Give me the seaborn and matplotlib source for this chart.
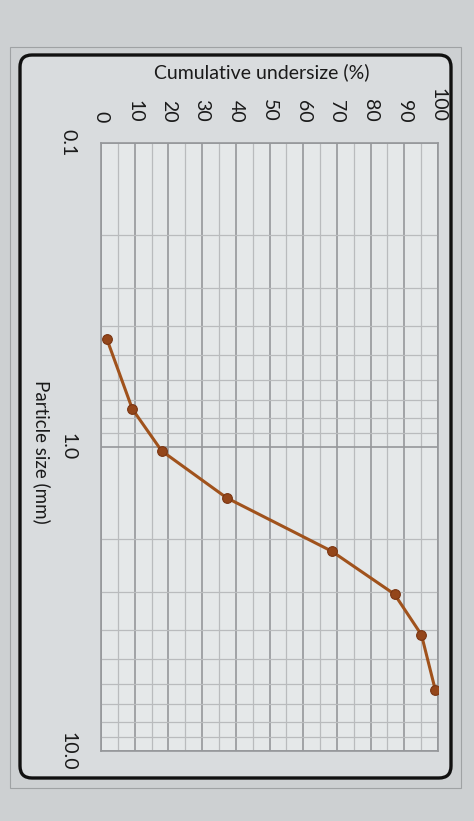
import numpy as np
import pandas as pd
import seaborn as sns
import matplotlib.pyplot as plt
from matplotlib.patches import FancyBboxPatch, Rectangle
from matplotlib.transforms import IdentityTransform
from matplotlib.ticker import LogLocator, MultipleLocator, NullFormatter

particle_size_mm = [0.44, 0.75, 1.03, 1.47, 2.2, 3.05, 4.15, 6.3]
cumulative_undersize = [1.7, 9.3, 18.0, 37.3, 68.4, 87.1, 95.1, 99.2]
pct_ticks = list(range(0, 101, 10))
size_ticks = [0.1, 1.0, 10.0]
size_labels = ['0.1', '1.0', '10.0']

sns.set_theme(style='white')
plt.rcParams['font.family'] = ['Lato', 'DejaVu Sans']

W, H = 474, 821
fig = plt.figure(figsize=(W / 100, H / 100), dpi=100, facecolor='#cdd0d2')

# thin outer rectangle and rounded black frame (pixel coords), behind the axes
outer = Rectangle((10, H - 788), 451, 741, transform=IdentityTransform(),
                  fill=False, edgecolor='#9fa2a4', lw=0.8, zorder=-2)
frame = FancyBboxPatch((20, H - 778), 431, 723, transform=IdentityTransform(),
                       boxstyle='round,pad=0,rounding_size=12',
                       facecolor='#d9dcde', edgecolor='#111111', lw=2.4, zorder=-1)
fig.patches.extend([outer, frame])

ax = fig.add_axes([101 / W, 1 - 751 / H, 337 / W, 608 / H])
ax.set_facecolor('#e5e8e9')

df = pd.DataFrame({'pct': cumulative_undersize, 'size': particle_size_mm})
sns.lineplot(data=df, x='pct', y='size', sort=False, estimator=None, ax=ax,
             color='#a0521c', lw=2.2, marker='o', markersize=7,
             markerfacecolor='#94461a', markeredgecolor='#7a3512',
             markeredgewidth=0.8, zorder=3)

ax.set_yscale('log')
ax.set_ylim(10, 0.1)
ax.set_xlim(0, 100)
ax.set_xticks(pct_ticks)
ax.xaxis.set_minor_locator(MultipleLocator(5))
ax.set_yticks(size_ticks)
ax.set_yticklabels(size_labels)
ax.yaxis.set_minor_locator(LogLocator(base=10, subs=np.arange(2, 10)))
ax.yaxis.set_minor_formatter(NullFormatter())
ax.xaxis.tick_top()
ax.tick_params(axis='x', which='both', length=0, pad=15, labelsize=14,
               labelcolor='#1a1a1a')
ax.tick_params(axis='y', which='both', length=0, pad=18, labelsize=14,
               labelcolor='#1a1a1a')
plt.setp(ax.get_xticklabels(), rotation=-90, ha='center', va='bottom')
plt.setp(ax.get_yticklabels(), rotation=-90, ha='right', va='center')

ax.grid(which='major', color='#95979a', lw=1.2)
ax.grid(which='minor', color='#b9bbbd', lw=0.9)
ax.set_axisbelow(True)
for s in ax.spines.values():
    s.set_color('#95979a')
    s.set_linewidth(1.2)
ax.set_xlabel('')
ax.set_ylabel('')

fig.text(262 / W, 1 - 72 / H, 'Cumulative undersize (%)', ha='center', va='center',
         fontsize=14, color='#1a1a1a')
fig.text(42 / W, 1 - 452 / H, 'Particle size (mm)', rotation=-90, ha='center',
         va='center', fontsize=13.5, color='#1a1a1a')

fig.savefig('out.png', dpi=100, facecolor=fig.get_facecolor())
